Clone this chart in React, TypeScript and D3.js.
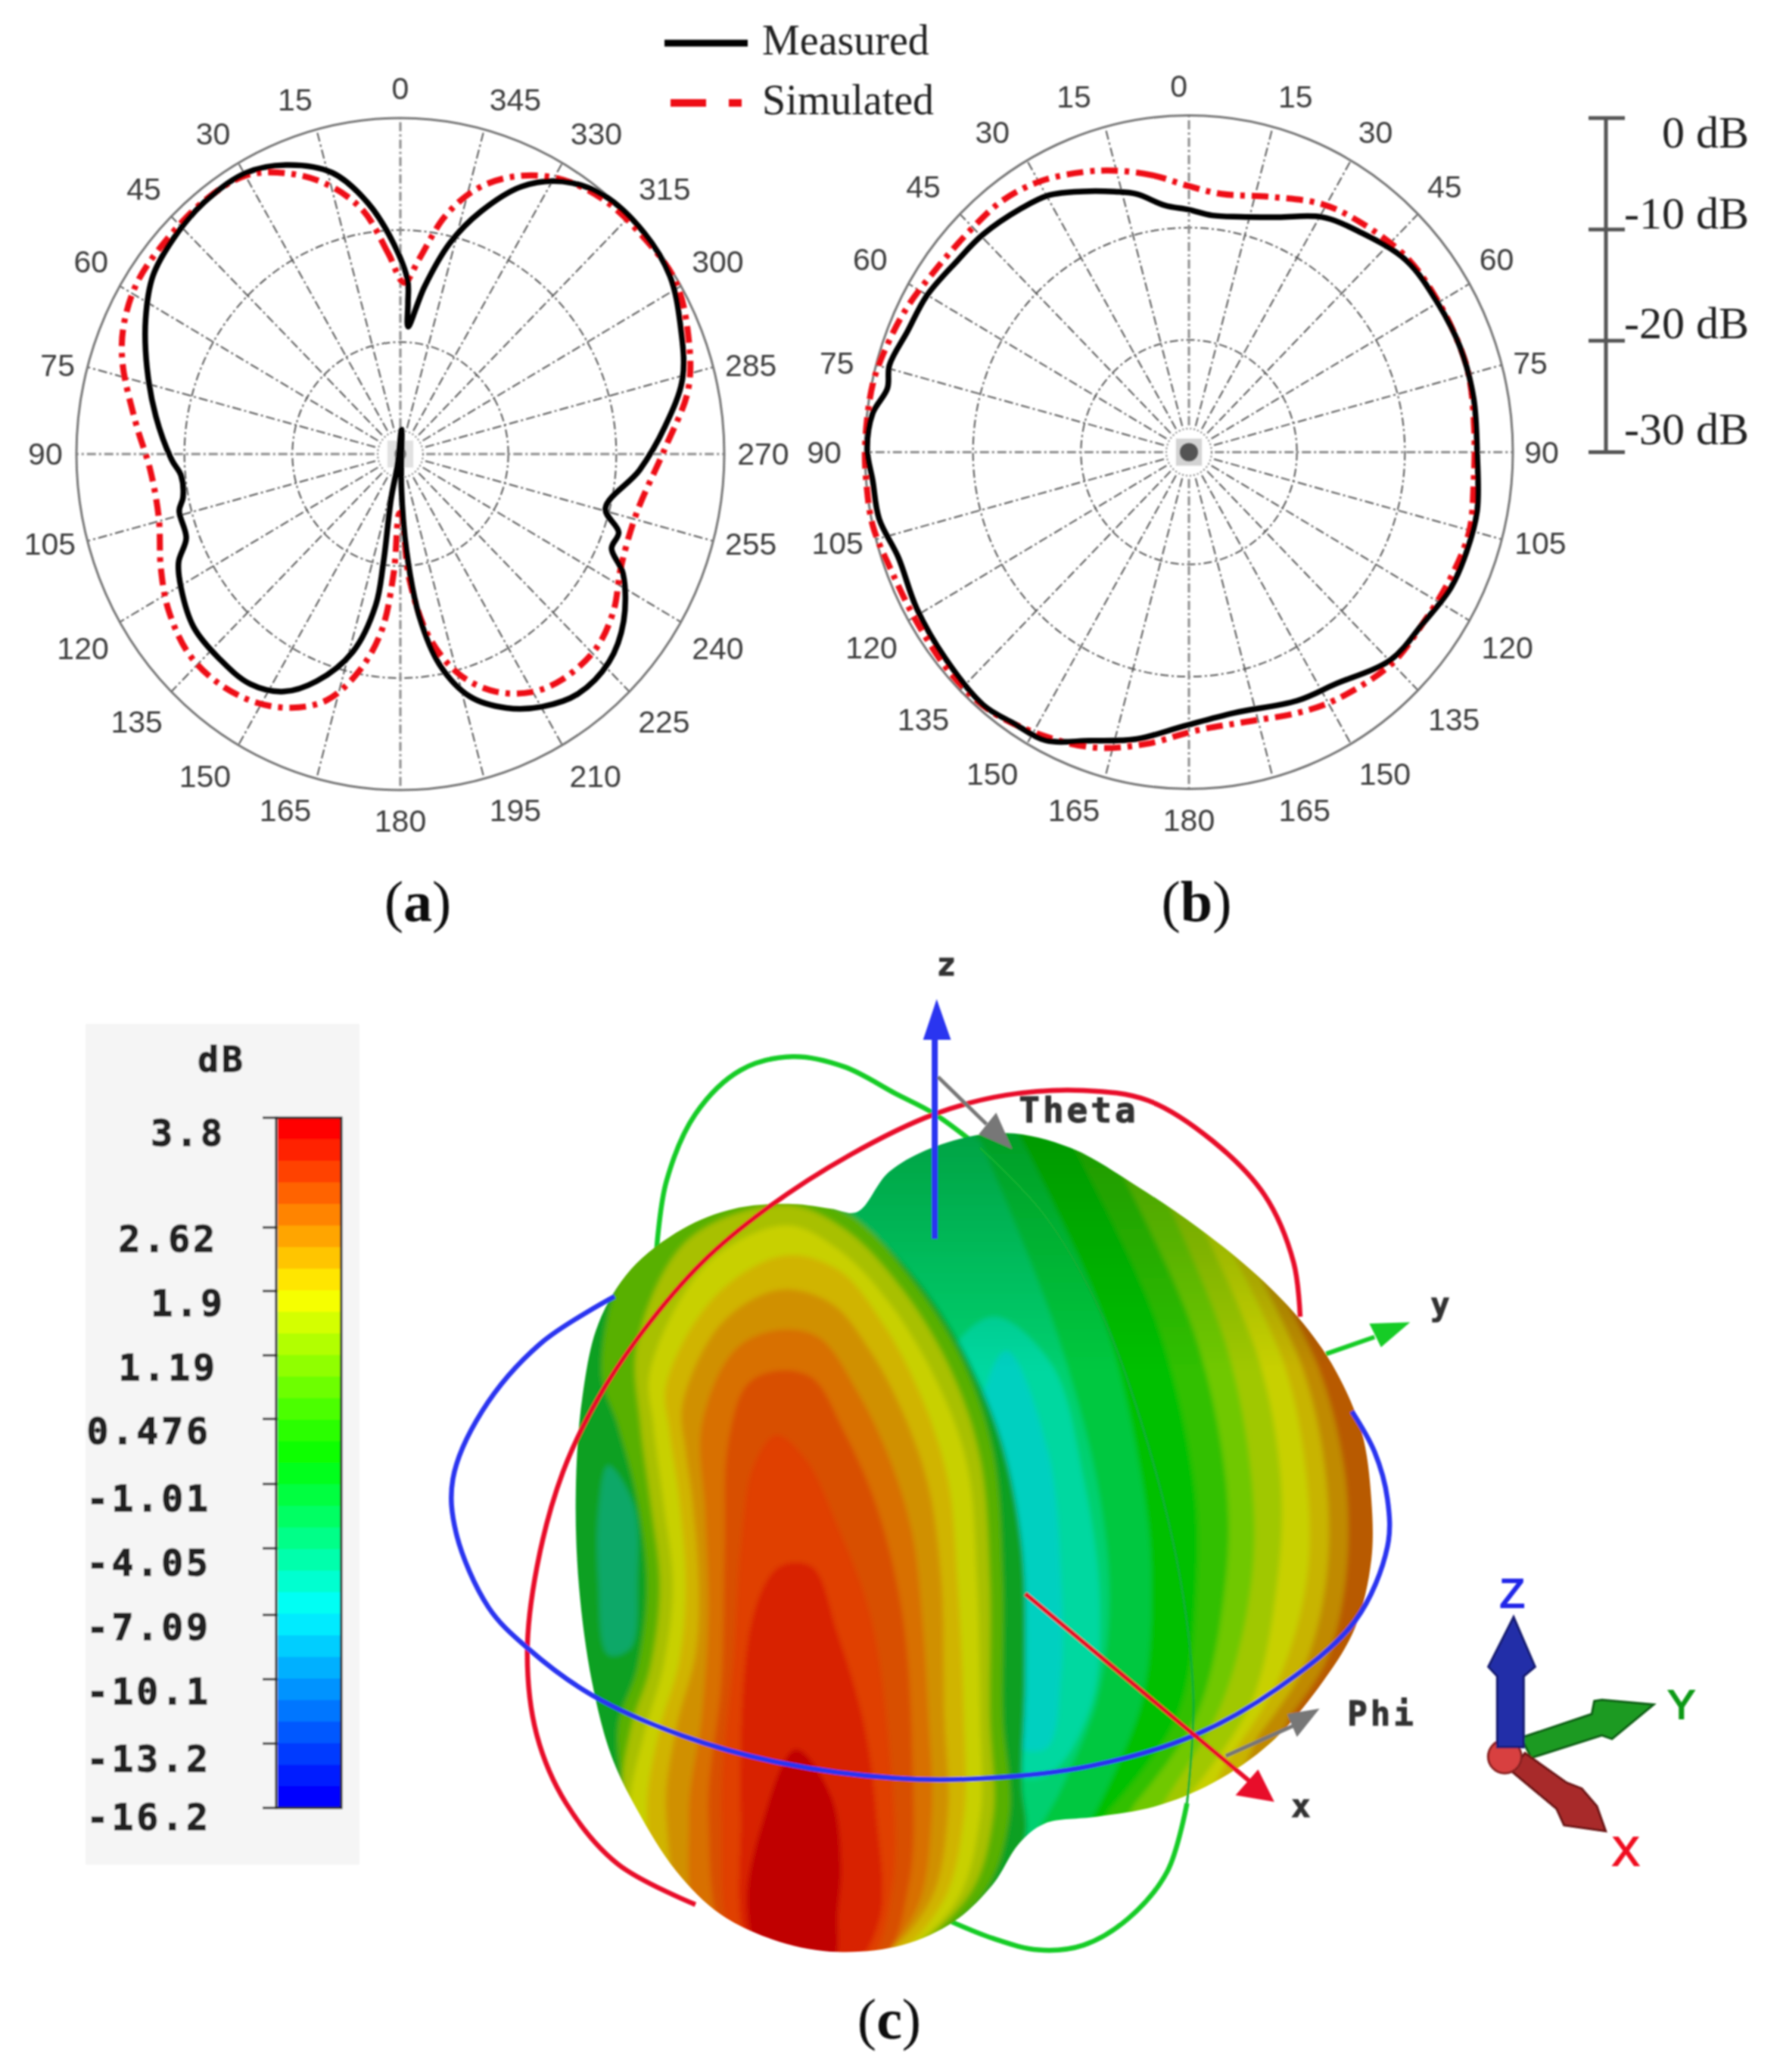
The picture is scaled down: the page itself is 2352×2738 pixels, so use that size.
import React from "react";
import * as d3 from "d3";

// polar cuts, angle runs counter-clockwise from the top, values in dB, in trace order
const aMeasuredAngle = [356.4, 357, 357.5, 1.9, 7.6, 14.1, 22.3, 29.8, 39, 47.4, 55.2, 62.9, 71.8, 81.5, 91.3, 95.4, 100.9, 103.9, 110.7, 115.2, 120.7, 128.9, 137.6, 145.9, 153, 159.1, 166, 170.4, 170.8, 167.8, 165, 357, 181.8, 183.8, 186.9, 191, 196.6, 203.4, 210.2, 217.5, 226.1, 234.2, 242.7, 246.7, 250.9, 255.7, 266.3, 275.6, 284.5, 294.1, 302.5, 311.2, 320.9, 328.3, 334.8, 341, 346.3, 351.5];
const aMeasuredDb = [-18.6, -16.5, -14.5, -11.2, -7.4, -4.1, -2.1, -1.1, -1.1, -1.5, -2.1, -3.5, -5.3, -7.1, -8.8, -9.6, -9.5, -8.9, -8.8, -7.3, -6.4, -5.4, -5.2, -5.2, -6.2, -8.3, -11.8, -16.3, -20.2, -26, -29, -27.8, -27.1, -21.3, -15.4, -10.8, -7.4, -5.3, -3.9, -3, -3.2, -4.5, -6.8, -8.7, -8.6, -10.4, -7.8, -5.4, -3, -1.6, -0.4, 0, -0.2, -1.4, -3.6, -7.1, -10.6, -14.9];
const aSimulatedAngle = [358.7, 3.5, 9, 15.7, 22.8, 30, 38.7, 48.1, 57.6, 65.7, 72.4, 83.3, 93.6, 104.5, 114.6, 123, 132.4, 140.7, 148.9, 156, 162.8, 168.6, 173.6, 176.7, 179, 180.6, 184.2, 189.3, 195.7, 202.7, 209.9, 216.7, 226.2, 234.7, 243.6, 256.4, 271.1, 282.3, 291.7, 301.2, 310.5, 320.3, 329.4, 337.4, 343.6, 349, 354.3];
const aSimulatedDb = [-14.7, -12.1, -8, -5, -2.8, -1.3, -1, -1.1, -1.2, -1.9, -3, -5.3, -6.8, -6.9, -5.6, -4.4, -3.5, -3.5, -4.1, -5.2, -7, -10.1, -14, -19.4, -24.7, -24.7, -18.9, -13.4, -9.5, -7, -5.5, -4.9, -4.9, -5.8, -7.2, -7.5, -5.5, -2.7, -1.3, -0.2, -0.3, -0.5, -1.4, -3.2, -5.4, -8.4, -12.5];

const bMeasuredAngle = [0, 5.8, 11.9, 16.5, 22.8, 29.5, 35.7, 44.6, 51.4, 60.2, 67.6, 74.4, 78.5, 83.3, 89.5, 94.9, 101.7, 109.2, 118.9, 129.3, 139.8, 146.2, 152.7, 160.3, 169.3, 178.9, 190.2, 204.3, 213.1, 225.4, 234.8, 243.5, 250.9, 258.9, 269.5, 280.3, 290.4, 299.8, 310.3, 321.1, 329.5, 338.5, 347.2, 354.2];
const bMeasuredDb = [-8.4, -7.9, -6.5, -5.8, -4.8, -3.7, -3.3, -2.8, -2.6, -2, -1.8, -1.2, -1.5, -0.5, -0.2, -0.6, -0.7, -1.5, -1.2, -0.9, -0.5, -0.9, -1.1, -2.7, -4, -5.6, -6.4, -5.7, -5.3, -3.7, -3.5, -2.9, -2.8, -2.8, -3.3, -3.2, -3.2, -3.4, -3.6, -4.8, -5.7, -7.5, -8.5, -8.8];
const bSimulatedAngle = [0, 7.8, 15.3, 21.4, 29.8, 37.8, 45.6, 54.3, 63.5, 70.6, 78.1, 88.7, 95.7, 102.7, 111.3, 121.2, 132, 141.2, 152.3, 161.9, 171.3, 181.6, 192.5, 203.3, 211.4, 224.7, 234.8, 245.3, 254.8, 264.5, 274.4, 284.3, 290.4, 300.2, 310.7, 322.4, 330.9, 341.3, 352.5];
const bSimulatedDb = [-6.3, -5.1, -4, -3.2, -2.2, -1.7, -1.7, -1.5, -0.9, -0.5, -0.1, 0, 0, 0, -0.5, -0.6, -0.4, -0.5, -1.4, -2.3, -3.7, -5.2, -5.4, -4.7, -4.1, -3.4, -3.5, -3.3, -3.1, -3.5, -3.5, -3.2, -3.2, -3.3, -3.4, -4.1, -4.7, -6, -6.8];

const tickAngles = d3.range(0, 360, 15);
const aTickLabels = tickAngles.map(String);
const bTickLabels = tickAngles.map((d) => String(d > 180 ? 360 - d : d));
const dbRings = [-20, -10];
const scaleBarDb = [0, -10, -20, -30];

const legendValues = ["3.8", "2.62", "1.9", "1.19", "0.476", "-1.01", "-4.05", "-7.09", "-10.1", "-13.2", "-16.2"];

const surfaceOutline = [[670, 405], [720, 345], [800, 305], [900, 288], [1000, 310], [1100, 365], [1200, 430], [1290, 500], [1360, 570], [1410, 640], [1450, 730], [1465, 830], [1465, 920], [1440, 1020], [1390, 1100], [1310, 1190], [1220, 1250], [1130, 1285], [1040, 1300], [960, 1310], [920, 1340], [880, 1400], [820, 1455], [740, 1490], [640, 1500], [550, 1485], [460, 1445], [390, 1380], [330, 1290], [290, 1210], [260, 1100], [240, 960], [235, 820], [245, 680], [270, 570], [320, 490], [400, 430], [480, 400], [570, 393], [630, 400]];
const backBandColors = ["#c08a00", "#c8b400", "#c8d000", "#a0c800", "#70c800", "#30c000", "#00c000", "#00c840", "#00d070"];
const backBands = [
  [[1300, 480], [1385, 640], [1425, 800], [1425, 950], [1395, 1070], [1340, 1150]],
  [[1270, 460], [1360, 640], [1395, 800], [1395, 950], [1360, 1080], [1290, 1180]],
  [[1230, 430], [1330, 630], [1365, 800], [1365, 950], [1320, 1100], [1240, 1220]],
  [[1190, 400], [1290, 620], [1325, 800], [1320, 950], [1280, 1130], [1190, 1260]],
  [[1140, 370], [1240, 600], [1280, 800], [1280, 950], [1235, 1130], [1150, 1270]],
  [[1070, 330], [1190, 580], [1240, 800], [1240, 950], [1195, 1150], [1100, 1280]],
  [[1000, 300], [1130, 560], [1190, 800], [1195, 950], [1165, 1150], [1060, 1290]],
  [[920, 290], [1050, 560], [1110, 800], [1125, 950], [1110, 1130], [1040, 1290]],
  [[860, 300], [970, 560], [1040, 800], [1060, 980], [1040, 1130], [980, 1270]],
];
const hollowColors = ["#00d8a0", "#00d0c0"];
const hollowBands = [
  [[880, 560], [970, 630], [1020, 800], [1045, 980], [1030, 1140], [960, 1240], [850, 1210], [800, 900], [800, 640]],
  [[900, 610], [965, 760], [985, 950], [985, 1090], [960, 1200], [850, 1160], [820, 900]],
];
const frontLobe = [[570, 385], [650, 405], [720, 460], [790, 540], [850, 640], [895, 750], [925, 900], [930, 1100], [925, 1250], [930, 1330], [880, 1420], [700, 1520], [400, 1520], [200, 1300], [200, 500], [400, 380]];
const frontHollow = [[285, 780], [325, 840], [330, 950], [320, 1050], [285, 1060], [270, 950], [270, 850]];
const frontBandColors = ["#58b000", "#a8c000", "#c8d000", "#d0b400", "#d09000", "#d87000", "#d85000", "#e04000", "#d82000", "#c00000"];
const frontBands = [
  [[275, 640], [320, 470], [440, 385], [560, 380], [660, 410], [750, 500], [830, 620], [880, 760], [895, 950], [895, 1150], [905, 1300], [860, 1420], [700, 1520], [500, 1520], [400, 1420], [320, 1290], [300, 1170], [330, 1080], [345, 960], [330, 830], [300, 720]],
  [[330, 600], [410, 445], [560, 395], [650, 430], [740, 520], [815, 640], [860, 770], [875, 950], [875, 1150], [880, 1300], [840, 1420], [700, 1520], [500, 1520], [390, 1420], [310, 1280], [320, 1170], [350, 1080], [365, 960], [350, 830], [335, 720]],
  [[350, 640], [440, 480], [560, 425], [640, 460], [720, 540], [795, 660], [840, 780], [855, 950], [860, 1150], [860, 1300], [820, 1430], [700, 1520], [500, 1520], [380, 1430], [320, 1300], [340, 1180], [370, 1080], [385, 960], [370, 830], [355, 720]],
  [[375, 660], [450, 530], [555, 470], [640, 490], [710, 570], [770, 680], [810, 800], [825, 950], [835, 1150], [835, 1300], [800, 1430], [700, 1520], [500, 1520], [370, 1430], [345, 1290], [365, 1170], [395, 1070], [405, 960], [395, 830], [380, 730]],
  [[400, 690], [460, 570], [550, 520], [630, 540], [690, 610], [740, 700], [780, 810], [800, 950], [805, 1150], [810, 1300], [780, 1430], [680, 1520], [430, 1500], [375, 1300], [390, 1170], [420, 1060], [425, 960], [415, 830], [405, 760]],
  [[430, 720], [480, 610], [545, 580], [610, 590], [670, 670], [720, 770], [755, 880], [770, 1000], [780, 1150], [785, 1300], [760, 1440], [680, 1520], [440, 1490], [410, 1300], [430, 1150], [440, 1000], [435, 850]],
  [[470, 750], [500, 660], [545, 640], [600, 650], [650, 730], [700, 840], [740, 1000], [755, 1200], [750, 1400], [700, 1520], [480, 1500], [440, 1300], [460, 1100], [465, 900]],
  [[490, 900], [510, 780], [545, 735], [590, 770], [640, 870], [690, 1000], [720, 1200], [725, 1400], [680, 1520], [490, 1500], [460, 1300], [480, 1050]],
  [[510, 1000], [550, 930], [600, 930], [640, 1030], [680, 1160], [700, 1300], [705, 1450], [660, 1520], [510, 1500], [490, 1300]],
  [[520, 1320], [575, 1200], [630, 1270], [645, 1370], [640, 1440], [630, 1520], [520, 1500], [500, 1430]],
];
const blueRing = [[295, 530], [180, 600], [90, 700], [45, 800], [50, 880], [100, 990], [160, 1050], [260, 1120], [400, 1180], [550, 1220], [730, 1243], [870, 1243], [1030, 1225], [1190, 1180], [1320, 1110], [1440, 1010], [1490, 900], [1490, 830], [1470, 760], [1435, 700]];
const redRing = [[1355, 560], [1345, 480], [1300, 380], [1220, 300], [1120, 240], [1020, 225], [900, 232], [790, 260], [660, 320], [530, 400], [430, 480], [340, 580], [270, 680], [215, 790], [175, 930], [160, 1060], [175, 1180], [220, 1280], [300, 1370], [420, 1430]];
const greenRingUpper = [[360, 460], [375, 360], [420, 260], [490, 195], [570, 175], [650, 190], [730, 230], [790, 260], [860, 310]];
const greenRingOnSurface = [[860, 310], [960, 410], [1050, 560], [1120, 750], [1170, 950], [1190, 1130], [1180, 1280]];
const greenRingLower = [[1180, 1280], [1150, 1380], [1090, 1450], [1020, 1490], [950, 1497], [880, 1480], [815, 1455]];

const triadBlue = [[235, 860], [235, 560], [200, 520], [300, 310], [385, 520], [340, 560], [340, 860]];
const triadGreen = [[330, 820], [610, 720], [620, 665], [650, 660], [855, 680], [690, 825], [650, 810], [370, 905]];
const triadRed = [[290, 960], [345, 885], [510, 1010], [570, 1035], [630, 1110], [665, 1215], [500, 1190], [470, 1120]];

const ringLine = d3.line().curve(d3.curveCatmullRom.alpha(0.5));
const blobLine = d3.line().curve(d3.curveCatmullRomClosed.alpha(0.5));

const rho = d3.scaleLinear().domain([-30, 0]).range([0, 1]);
const viewX = d3.scaleLinear().domain([0, 1568]).range([560, 1900]);
const viewY = d3.scaleLinear().domain([0, 1568]).range([1240, 2640]);
const toView = (pts: number[][]) => pts.map((p) => [viewX(p[0]), viewY(p[1])] as [number, number]);
const triadX = d3.scaleLinear().domain([0, 1140]).range([1900, 2280]);
const triadY = d3.scaleLinear().domain([0, 1568]).range([2040, 2530]);

const legendTop = 1477;
const legendBottom = 2389;
const legendTickY = [1477, 1622, 1706, 1791, 1875, 1961, 2046, 2134, 2219, 2304, 2389];
const legendLabelY = [1514, 1654, 1739, 1824, 1908, 1997, 2082, 2167, 2252, 2341, 2418];
const legendLabelX = [298, 288, 298, 288, 279, 279, 279, 279, 279, 279, 279];
const legendColor = d3.scaleLinear<string>().domain([0, 0.25, 0.49, 0.72, 1]).range(["#ff0000", "#ffff00", "#00ff00", "#00ffff", "#0000ff"]);
const legendCells = d3.range(32);

const sansStack = "'Liberation Sans', Arial, sans-serif";
const serifStack = "'Liberation Serif', 'Times New Roman', serif";
const monoStack = "'DejaVu Sans Mono', monospace";

type PolarProps = {
  cx: number; cy: number; rx: number; ry: number;
  labels: string[]; labelU: number[]; labelV: number[];
  measuredAngle: number[]; measuredDb: number[];
  simulatedAngle: number[]; simulatedDb: number[];
  hubColor: string; hubRadius: number;
};

function PolarPanel(p: PolarProps) {
  const px = (a: number, r: number) => p.cx - p.rx * r * Math.sin((a * Math.PI) / 180);
  const py = (a: number, r: number) => p.cy - p.ry * r * Math.cos((a * Math.PI) / 180);
  const trace = (angles: number[], dbs: number[]) =>
    blobLine(angles.map((a, i) => [px(a, rho(dbs[i])), py(a, rho(dbs[i]))] as [number, number])) as string;
  return (
    <g>
      {dbRings.map((d) => (
        <ellipse key={d} cx={p.cx} cy={p.cy} rx={p.rx * rho(d)} ry={p.ry * rho(d)} fill="none" stroke="#555" strokeWidth={2} strokeDasharray="11 4 3 4" />
      ))}
      {tickAngles.map((a) => {
        const axial = a % 90 === 0;
        return (
          <line key={a} x1={px(a, 0.08)} y1={py(a, 0.08)} x2={px(a, 1)} y2={py(a, 1)}
            stroke={axial ? "#8c8c8c" : "#555"} strokeWidth={axial ? 3 : 2} strokeDasharray="12 4 3 4" />
        );
      })}
      <ellipse cx={p.cx} cy={p.cy} rx={p.rx * 0.07} ry={p.ry * 0.07} fill="none" stroke="#777" strokeWidth={2} strokeDasharray="2 3" />
      <rect x={p.cx - p.rx * 0.04} y={p.cy - p.ry * 0.04} width={p.rx * 0.08} height={p.ry * 0.08} fill={p.hubColor} opacity={0.22} />
      <circle cx={p.cx} cy={p.cy} r={p.hubRadius} fill={p.hubColor} opacity={0.8} />
      <ellipse cx={p.cx} cy={p.cy} rx={p.rx} ry={p.ry} fill="none" stroke="#777" strokeWidth={3} />
      {tickAngles.map((a, i) => (
        <text key={a} x={p.cx + p.rx * p.labelU[i]} y={p.cy + p.ry * p.labelV[i]} textAnchor="middle" dominantBaseline="central"
          fontFamily={sansStack} fontSize={41} fill="#3c3c3c">{p.labels[i]}</text>
      ))}
      <path d={trace(p.simulatedAngle, p.simulatedDb)} fill="none" stroke="#ee0c14" strokeWidth={8} strokeDasharray="22 9 6 9" />
      <path d={trace(p.measuredAngle, p.measuredDb)} fill="none" stroke="#000" strokeWidth={7.5} strokeLinejoin="round" />
    </g>
  );
}

function bandPath(pts: number[][]) {
  // stripe boundary on the back lobe, region left of it gets the colour
  const first = pts[0];
  const last = pts[pts.length - 1];
  const closing = [[last[0] - 200, 1600], [-100, 1600], [-100, 100], [first[0] - 200, 100]];
  const body = ringLine(toView(pts)) as string;
  return body + toView(closing).map((c) => `L${c[0]},${c[1]}`).join("") + "Z";
}

function Surface() {
  const ringWidth = 6.5;
  return (
    <g>
      <defs>
        <clipPath id="surfaceClip"><path d={blobLine(toView(surfaceOutline)) as string} /></clipPath>
        <filter id="soft" x="-5%" y="-5%" width="110%" height="110%"><feGaussianBlur stdDeviation="3" /></filter>
        <linearGradient id="topShade" gradientUnits="userSpaceOnUse" x1={0} x2={0} y1={viewY(290)} y2={viewY(640)}>
          <stop offset="0" stopColor="#006000" stopOpacity={0.4} />
          <stop offset="1" stopColor="#006000" stopOpacity={0} />
        </linearGradient>
      </defs>
      <path d={ringLine(toView(greenRingUpper)) as string} fill="none" stroke="#14cc28" strokeWidth={ringWidth} />
      <path d={ringLine(toView(greenRingLower)) as string} fill="none" stroke="#14cc28" strokeWidth={ringWidth} />
      <g clipPath="url(#surfaceClip)">
        <g filter="url(#soft)">
          <rect x={viewX(0)} y={viewY(0)} width={1340} height={1400} fill="#b85a00" />
          {backBands.map((b, i) => <path key={i} d={bandPath(b)} fill={backBandColors[i]} />)}
          {hollowBands.map((b, i) => <path key={i} d={blobLine(toView(b)) as string} fill={hollowColors[i]} />)}
          <rect x={viewX(0)} y={viewY(200)} width={1340} height={400} fill="url(#topShade)" />
          <path d={blobLine(toView(frontLobe)) as string} fill="#10a020" />
          <path d={blobLine(toView(frontHollow)) as string} fill="#10a868" />
          {frontBands.map((b, i) => <path key={i} d={blobLine(toView(b)) as string} fill={frontBandColors[i]} />)}
        </g>
      </g>
      <path d={ringLine(toView(greenRingOnSurface)) as string} fill="none" stroke="#0cb030" strokeWidth={3} />
      <path d={ringLine(toView(redRing)) as string} fill="none" stroke="#e8102a" strokeWidth={ringWidth} />
      <path d={ringLine(toView(blueRing)) as string} fill="none" stroke="#2c34f0" strokeWidth={ringWidth} />

      {/* axes of the view */}
      <line x1={viewX(790)} y1={viewY(445)} x2={viewX(790)} y2={viewY(150)} stroke="#2c34f0" strokeWidth={8} />
      <polygon points={toView([[793, 90], [815, 150], [772, 150]]).join(" ")} fill="#2c34f0" />
      <line x1={viewX(930)} y1={viewY(970)} x2={viewX(1280)} y2={viewY(1250)} stroke="#e8102a" strokeWidth={6} />
      <polygon points={toView([[1315, 1278], [1255, 1268], [1290, 1230]]).join(" ")} fill="#e8102a" />
      <line x1={viewX(1395)} y1={viewY(615)} x2={viewX(1470)} y2={viewY(590)} stroke="#14cc28" strokeWidth={6} />
      <polygon points={toView([[1525, 568], [1462, 570], [1480, 605]]).join(" ")} fill="#14cc28" />
      <line x1={viewX(795)} y1={viewY(205)} x2={viewX(870)} y2={viewY(275)} stroke="#777" strokeWidth={5} />
      <polygon points={toView([[910, 312], [858, 290], [885, 258]]).join(" ")} fill="#777" />
      <line x1={viewX(1240)} y1={viewY(1210)} x2={viewX(1345)} y2={viewY(1165)} stroke="#777" strokeWidth={5} />
      <polygon points={toView([[1385, 1140], [1335, 1148], [1350, 1182]]).join(" ")} fill="#777" />

      <g fontFamily={monoStack} fontWeight="bold" fill="#333" stroke="#333" strokeWidth={1}>
        <text x={viewX(808)} y={viewY(55)} textAnchor="middle" fontSize={42}>z</text>
        <text x={viewX(1356)} y={viewY(1300)} textAnchor="middle" fontSize={42}>x</text>
        <text x={1903} y={1738} textAnchor="middle" fontSize={42}>y</text>
        <text x={viewX(920)} y={viewY(272)} fontSize={46} letterSpacing={4}>Theta</text>
        <text x={viewX(1428)} y={viewY(1165)} fontSize={44} letterSpacing={4}>Phi</text>
      </g>
    </g>
  );
}

function Triad() {
  const pts = (list: number[][]) => list.map((p) => [triadX(p[0]), triadY(p[1])].join(",")).join(" ");
  return (
    <g>
      <polygon points={pts(triadGreen)} fill="#1f9a24" stroke="#0e5e12" strokeWidth={3} />
      <polygon points={pts(triadRed)} fill="#a82a2a" stroke="#6a1414" strokeWidth={3} />
      <circle cx={triadX(265)} cy={triadY(900)} r={22} fill="#d84040" stroke="#8a2020" strokeWidth={3} />
      <polygon points={pts(triadBlue)} fill="#242ea8" stroke="#141a70" strokeWidth={3} />
      <g fontFamily={sansStack} fontSize={54} strokeWidth={2}>
        <text x={triadX(295)} y={triadY(270)} textAnchor="middle" fill="#2028e8" stroke="#2028e8">Z</text>
        <text x={triadX(965)} y={triadY(740)} textAnchor="middle" fill="#0a9a14" stroke="#0a9a14">Y</text>
        <text x={triadX(745)} y={triadY(1360)} textAnchor="middle" fill="#f01020" stroke="#f01020">X</text>
      </g>
    </g>
  );
}

function ColorLegend() {
  const cellY = d3.scaleBand<number>().domain(legendCells).range([legendTop, legendBottom]);
  return (
    <g>
      <rect x={113} y={1353} width={362} height={1111} fill="#f5f5f5" />
      <text x={293} y={1416} textAnchor="middle" fontFamily={monoStack} fontWeight="bold" fontSize={46} letterSpacing={4} fill="#222" stroke="#222" strokeWidth={1.5}>dB</text>
      {legendCells.map((c) => (
        <rect key={c} x={367} y={cellY(c)} width={84} height={cellY.bandwidth() + 0.5} fill={legendColor(c / (legendCells.length - 1))} />
      ))}
      <rect x={365} y={legendTop} width={86} height={legendBottom - legendTop} fill="none" stroke="#222" strokeWidth={3} />
      {legendValues.map((v, i) => (
        <g key={v}>
          <line x1={347} x2={367} y1={legendTickY[i]} y2={legendTickY[i]} stroke="#333" strokeWidth={3} />
          <text x={legendLabelX[i]} y={legendLabelY[i]} textAnchor="end" fontFamily={monoStack} fontWeight="bold" fontSize={48} letterSpacing={4} fill="#222" stroke="#222" strokeWidth={1.5}>{v}</text>
        </g>
      ))}
    </g>
  );
}

const App = () => {
  const barY = d3.scaleLinear().domain([0, -30]).range([156, 597.5]);
  const barLabelY = [195, 302, 447, 587];
  return (
    <svg width={2352} height={2738} viewBox="0 0 2352 2738" style={{ position: "absolute", left: 0, top: 0, display: "block", background: "#fff" }}>
      <defs>
        <filter id="lens" x="-2%" y="-2%" width="104%" height="104%"><feGaussianBlur stdDeviation="1.1" /></filter>
      </defs>
      <g filter="url(#lens)">
        <PolarPanel cx={529} cy={600} rx={428} ry={444}
          labels={aTickLabels}
          labelU={[0, -0.325, -0.578, -0.792, -0.955, -1.058, -1.096, -1.082, -0.98, -0.814, -0.603, -0.355, 0, 0.355, 0.602, 0.814, 0.98, 1.082, 1.12, 1.082, 0.98, 0.816, 0.605, 0.355]}
          labelV={[-1.088, -1.053, -0.952, -0.788, -0.572, -0.264, 0, 0.268, 0.579, 0.797, 0.96, 1.061, 1.093, 1.061, 0.96, 0.797, 0.579, 0.268, 0, -0.264, -0.572, -0.788, -0.952, -1.053]}
          measuredAngle={aMeasuredAngle} measuredDb={aMeasuredDb}
          simulatedAngle={aSimulatedAngle} simulatedDb={aSimulatedDb} hubColor="#777" hubRadius={8} />
        <PolarPanel cx={1571} cy={597.5} rx={428} ry={445}
          labels={bTickLabels}
          labelU={[-0.031, -0.355, -0.607, -0.82, -0.984, -1.087, -1.126, -1.085, -0.98, -0.82, -0.607, -0.355, 0, 0.357, 0.605, 0.818, 0.983, 1.085, 1.089, 1.054, 0.95, 0.789, 0.576, 0.329]}
          labelV={[-1.087, -1.056, -0.95, -0.787, -0.573, -0.263, 0, 0.27, 0.58, 0.795, 0.957, 1.064, 1.094, 1.064, 0.957, 0.795, 0.58, 0.27, 0, -0.263, -0.573, -0.787, -0.95, -1.056]}
          measuredAngle={bMeasuredAngle} measuredDb={bMeasuredDb}
          simulatedAngle={bSimulatedAngle} simulatedDb={bSimulatedDb} hubColor="#333" hubRadius={12} />

        {/* legend of the cuts */}
        <line x1={878} x2={988} y1={57} y2={57} stroke="#000" strokeWidth={9} />
        <line x1={886} x2={980} y1={136} y2={136} stroke="#ee0c14" strokeWidth={10} strokeDasharray="47 30 17 30" />
        <text x={1007} y={72} fontFamily={serifStack} fontSize={56} fill="#222">Measured</text>
        <text x={1007} y={151} fontFamily={serifStack} fontSize={56} fill="#222">Simulated</text>

        {/* dB scale bar */}
        <line x1={2122} x2={2122} y1={barY(0)} y2={barY(-30)} stroke="#555" strokeWidth={5} />
        {scaleBarDb.map((d, i) => (
          <g key={d}>
            <line x1={2099} x2={2147} y1={barY(d)} y2={barY(d)} stroke="#555" strokeWidth={5} />
            <text x={2311} y={barLabelY[i]} textAnchor="end" fontFamily={serifStack} fontSize={60} fill="#222">{d === 0 ? "0 dB" : `${d} dB`}</text>
          </g>
        ))}

        <g fontFamily={serifStack} fontSize={76} textAnchor="middle" fill="#111">
          <text x={552} y={1217}>(<tspan fontWeight="bold">a</tspan>)</text>
          <text x={1581} y={1217}>(<tspan fontWeight="bold">b</tspan>)</text>
          <text x={1175} y={2694}>(<tspan fontWeight="bold">c</tspan>)</text>
        </g>

        <ColorLegend />
        <Surface />
        <Triad />
      </g>
    </svg>
  );
};

export default App;
